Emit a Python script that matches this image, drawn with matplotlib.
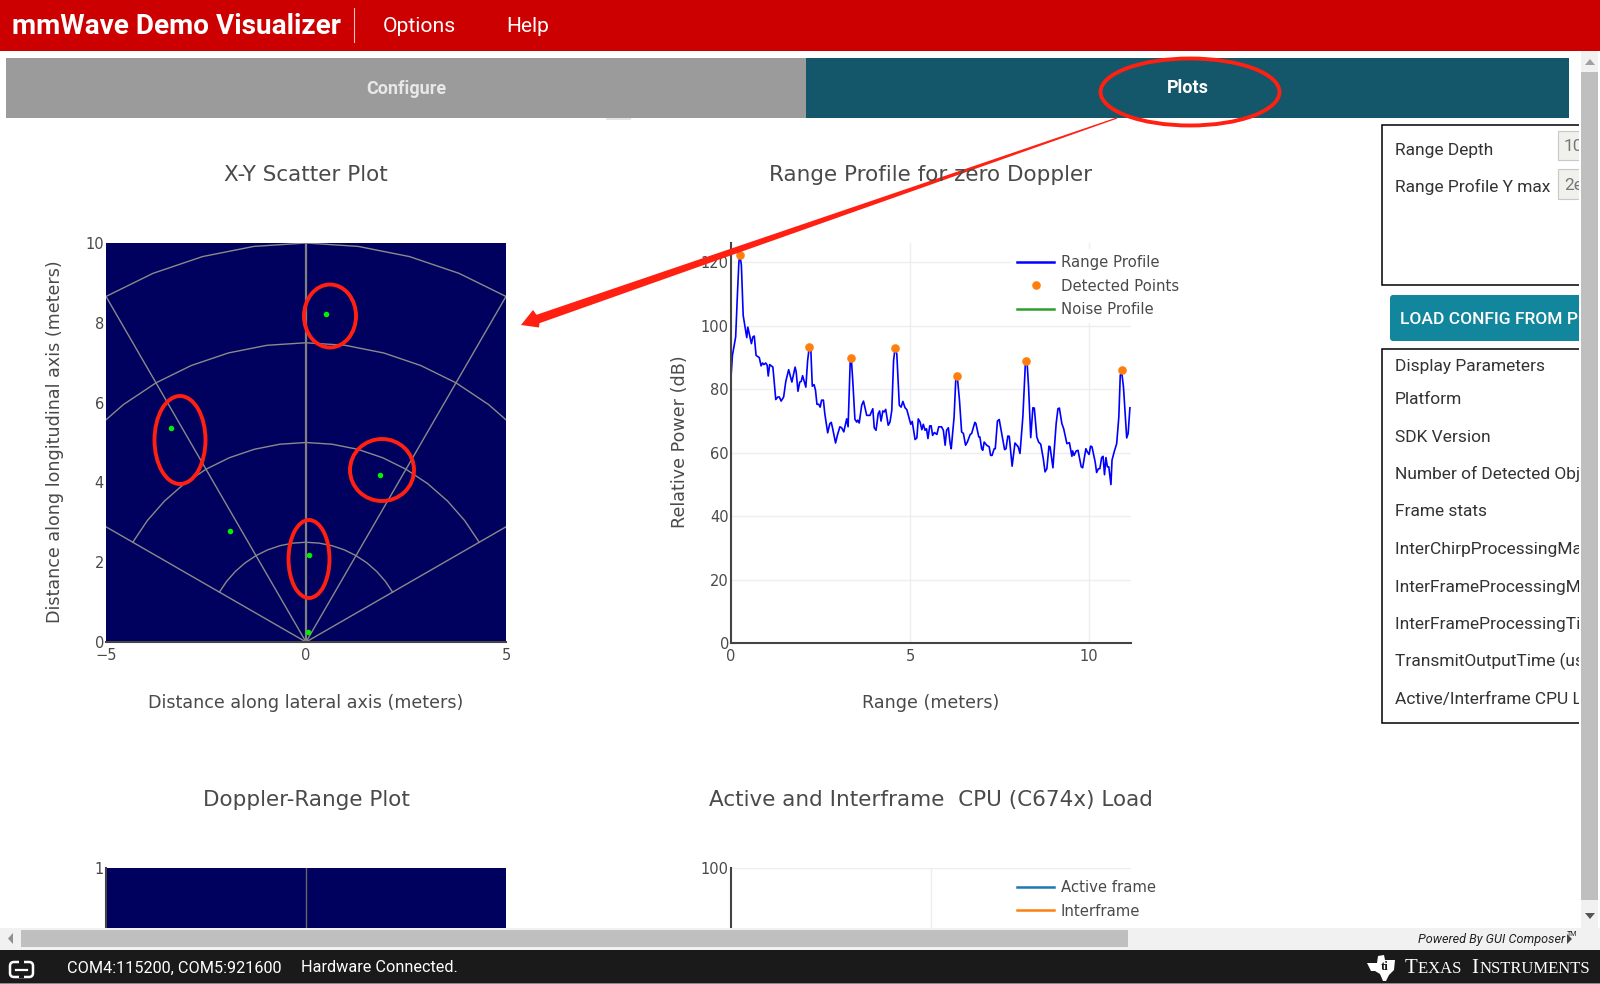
import numpy as np
import matplotlib
matplotlib.use('Agg')
import matplotlib.pyplot as plt
from matplotlib.patches import Rectangle, Ellipse, Polygon, FancyBboxPatch

W, H = 1600, 984

# X-Y scatter points
scatter_x = [0.51, -3.37, 1.86, -1.89, 0.07, 0.04]
scatter_y = [8.23, 5.36, 4.18, 2.78, 2.17, 0.26]

# range profile
range_m = [0.00, 0.04, 0.13, 0.18, 0.22, 0.25, 0.29, 0.34, 0.44, 0.47, 0.57, 0.61, 0.65, 0.70, 0.79, 0.84,
           0.88, 0.92, 0.97, 1.01, 1.04, 1.08, 1.17, 1.25, 1.31, 1.35, 1.40, 1.47, 1.53, 1.61, 1.70, 1.79,
           1.82, 1.87, 1.92, 1.96, 2.00, 2.09, 2.14, 2.18, 2.23, 2.27, 2.32, 2.36, 2.40, 2.45, 2.49, 2.53,
           2.58, 2.62, 2.70, 2.76, 2.80, 2.84, 2.92, 2.97, 3.04, 3.09, 3.15, 3.23, 3.27, 3.33, 3.36, 3.40,
           3.46, 3.51, 3.54, 3.58, 3.65, 3.70, 3.79, 3.88, 3.96, 4.00, 4.05, 4.11, 4.15, 4.19, 4.24, 4.28,
           4.32, 4.39, 4.44, 4.49, 4.54, 4.58, 4.63, 4.70, 4.75, 4.80, 4.86, 4.91, 5.02, 5.06, 5.14, 5.19,
           5.23, 5.28, 5.33, 5.37, 5.42, 5.46, 5.50, 5.55, 5.59, 5.63, 5.68, 5.75, 5.80, 5.88, 5.93, 5.98,
           6.02, 6.07, 6.12, 6.15, 6.23, 6.28, 6.32, 6.38, 6.44, 6.49, 6.55, 6.60, 6.68, 6.72, 6.81, 6.84,
           6.92, 6.95, 7.00, 7.03, 7.07, 7.14, 7.21, 7.25, 7.29, 7.35, 7.38, 7.44, 7.49, 7.56, 7.64, 7.68,
           7.73, 7.77, 7.85, 7.93, 8.02, 8.07, 8.15, 8.22, 8.27, 8.31, 8.37, 8.43, 8.47, 8.54, 8.59, 8.65,
           8.72, 8.77, 8.82, 8.88, 8.91, 8.99, 9.08, 9.13, 9.17, 9.24, 9.29, 9.38, 9.45, 9.52, 9.54, 9.58,
           9.64, 9.69, 9.78, 9.82, 9.91, 9.95, 10.00, 10.04, 10.08, 10.17, 10.21, 10.26, 10.30, 10.35, 10.39,
           10.43, 10.47, 10.51, 10.55, 10.61, 10.64, 10.70, 10.77, 10.83, 10.87, 10.91, 10.96, 11.05, 11.09,
           11.14]
power_db = [83.8, 90.6, 96.4, 110.0, 120.0, 122.1, 119.0, 103.2, 96.2, 99.5, 94.3, 96.4, 96.7, 90.6, 89.9, 87.3,
            88.2, 87.7, 88.2, 87.5, 84.1, 87.7, 86.9, 76.7, 77.5, 77.5, 76.2, 77.5, 82.4, 86.1, 82.2, 86.9,
            85.4, 79.3, 82.2, 82.4, 84.2, 80.6, 89.0, 92.7, 92.2, 80.9, 81.4, 79.6, 75.2, 75.2, 74.3, 76.5,
            76.5, 72.2, 66.2, 69.1, 69.5, 67.5, 63.0, 65.4, 68.1, 67.8, 66.5, 70.6, 68.1, 89.0, 89.6, 82.7,
            70.5, 69.6, 70.2, 69.3, 74.9, 76.2, 71.7, 71.7, 73.8, 67.8, 67.0, 72.2, 73.1, 69.9, 73.1, 72.8,
            73.6, 68.6, 69.6, 73.3, 89.0, 92.7, 91.1, 74.9, 74.3, 76.1, 74.1, 73.5, 68.9, 69.8, 64.1, 64.6,
            70.6, 69.6, 67.2, 68.9, 67.0, 67.5, 64.4, 68.4, 68.4, 65.4, 66.3, 65.7, 68.1, 68.1, 67.0, 62.3,
            67.0, 67.8, 62.8, 61.2, 71.2, 83.8, 83.8, 76.5, 66.5, 66.0, 62.3, 63.3, 65.7, 66.0, 69.5, 69.1,
            64.9, 64.9, 61.2, 60.7, 63.3, 62.3, 61.8, 59.1, 59.1, 61.2, 61.2, 69.9, 70.4, 66.0, 60.9, 61.2,
            65.2, 65.1, 55.7, 63.0, 61.8, 59.7, 71.2, 88.0, 88.0, 80.6, 64.7, 74.1, 74.0, 64.9, 63.3, 62.6,
            58.1, 53.9, 54.9, 62.0, 61.8, 55.2, 69.1, 73.8, 74.0, 69.1, 67.5, 62.8, 63.1, 58.8, 60.5, 59.1,
            60.5, 60.7, 55.5, 55.2, 61.2, 60.2, 59.4, 62.0, 61.8, 57.0, 53.7, 54.9, 54.9, 58.4, 58.8,
            53.0, 58.4, 55.5, 55.5, 49.9, 57.6, 60.2, 62.8, 71.2, 84.3, 85.4, 80.6, 64.6, 66.0,
            74.1]
detected_m = [0.25, 2.18, 3.35, 4.58, 6.32, 8.25, 10.91]
detected_db = [122.3, 93.2, 89.8, 92.8, 84.1, 88.7, 86.1]

panel_labels = ['Display Parameters', 'Platform', 'SDK Version', 'Number of Detected Objects', 'Frame stats',
                'InterChirpProcessingMargin (usec)', 'InterFrameProcessingMargin (usec)',
                'InterFrameProcessingTime (usec)', 'TransmitOutputTime (usec)', 'Active/Interframe CPU Load (%)']
panel_label_y = [367, 400, 437, 474, 512, 549, 587, 624, 661, 699]

NAVY = '#00005f'
TICK = '#4a4a4a'
GRIDC = '#eeeeee'
UI = ['Roboto', 'DejaVu Sans']


def px_axes(left, top, w, h):
    return fig.add_axes([left / W, 1 - (top + h) / H, w / W, h / H])


def style_axes(ax, left_spine=True):
    for name in ['top', 'right']:
        ax.spines[name].set_visible(False)
    ax.spines['left'].set_visible(left_spine)
    for name in ['left', 'bottom']:
        ax.spines[name].set_color('#444444')
        ax.spines[name].set_linewidth(1.5)
    ax.tick_params(length=0, labelsize=10.5, labelcolor=TICK)
    ax.tick_params(axis='x', pad=4)
    ax.tick_params(axis='y', pad=1.5)


def page_legend(ax, top):
    leg = fig.legend(*ax.get_legend_handles_labels(), loc='upper left', bbox_to_anchor=(1011 / W, 1 - top / H),
                     borderaxespad=0, borderpad=0.4, fontsize=10.7, labelcolor=TICK, handlelength=2.5,
                     handletextpad=0.45, labelspacing=0.58, framealpha=1, edgecolor='none', fancybox=False)
    for handle in leg.get_lines():
        handle.set_linewidth(1.8)
    return leg


fig = plt.figure(figsize=(W / 100, H / 100), dpi=100, facecolor='white')

# X-Y scatter
ax1 = px_axes(106, 243, 400, 399)
ax1.set_facecolor(NAVY)
style_axes(ax1, left_spine=False)
for r in [2.5, 5, 7.5, 10]:
    a = np.radians(np.arange(-60, 60.1, 7.5))
    ax1.plot(r * np.sin(a), r * np.cos(a), color='#8a8a8a', lw=1.0)
for deg in [-60, -30, 30, 60]:
    ax1.plot([0, 12 * np.sin(np.radians(deg))], [0, 12 * np.cos(np.radians(deg))], color='#8a8a8a', lw=1.0)
ax1.plot([0, 0], [0, 10], color='#808080', lw=1.6)
ax1.scatter(scatter_x, scatter_y, s=16, color='#00f000', linewidths=0, zorder=5)
ax1.set_xlim(-5, 5)
ax1.set_ylim(0, 10)
ax1.set_xticks([-5, 0, 5])
ax1.set_yticks([0, 2, 4, 6, 8, 10])

# range profile
ax2 = px_axes(731, 243, 400, 400)
style_axes(ax2)
ax2.grid(True, color=GRIDC, lw=1.0)
ax2.set_axisbelow(True)
ax2.plot(range_m, power_db, color='#0000ff', lw=1.2, label='Range Profile')
ax2.plot(detected_m, detected_db, 'o', color='#ff7f0e', ms=6.2, mew=0, label='Detected Points', zorder=5)
ax2.plot([], [], color='#2ca02c', lw=1.5, label='Noise Profile')
ax2.set_xlim(0, 11.17)
ax2.set_ylim(0, 126)
ax2.set_xticks([0, 5, 10])
ax2.set_yticks([0, 20, 40, 60, 80, 100, 120])
page_legend(ax2, 249)

# Doppler-range, only the top of it is on screen
ax3 = px_axes(106, 868, 400, 400)
ax3.set_facecolor(NAVY)
style_axes(ax3)
ax3.plot([0, 0], [-1, 1], color='#666666', lw=1.0)
ax3.set_xlim(-1, 1)
ax3.set_ylim(-1, 1)
ax3.set_xticks([])
ax3.set_yticks([1])

# CPU load, only the top of it is on screen
ax4 = px_axes(731, 868, 400, 400)
style_axes(ax4)
ax4.grid(True, color=GRIDC, lw=1.0)
ax4.set_axisbelow(True)
ax4.plot([], [], color='#1f77b4', lw=1.5, label='Active frame')
ax4.plot([], [], color='#ff7f0e', lw=1.5, label='Interframe')
ax4.set_xlim(0, 10)
ax4.set_ylim(0, 100)
ax4.set_xticks([5])
ax4.set_xticklabels([''])
ax4.set_yticks([100])
page_legend(ax4, 874)

# page chrome goes on one pixel-based axes above the plots
ui = fig.add_axes([0, 0, 1, 1], zorder=10)
ui.set_xlim(0, W)
ui.set_ylim(H, 0)
ui.axis('off')
ui.patch.set_alpha(0)


def rect(x0, y0, x1, y1, color, **kw):
    ui.add_patch(Rectangle((x0, y0), x1 - x0, y1 - y0, facecolor=color, edgecolor=kw.pop('edge', 'none'), **kw))


def label(x, y, s, size=12.5, color='#333333', ha='left', family=UI, **kw):
    return ui.text(x, y, s, fontsize=size, color=color, ha=ha, va='center', family=family, **kw)


# plot titles and axis titles
dejavu = ['DejaVu Sans']
for x, y, s in [(306, 175, 'X-Y Scatter Plot'), (931, 175, 'Range Profile for zero Doppler'),
                (306, 800, 'Doppler-Range Plot'), (931, 800, 'Active and Interframe  CPU (C674x) Load')]:
    label(x, y, s, size=15.5, color=TICK, ha='center', family=dejavu)
label(306, 703, 'Distance along lateral axis (meters)', size=12.6, color=TICK, ha='center', family=dejavu)
label(931, 703, 'Range (meters)', size=12.6, color=TICK, ha='center', family=dejavu)
label(55, 442, 'Distance along longitudinal axis (meters)', size=12.6, color=TICK, ha='center', family=dejavu,
      rotation=90)
label(680, 442, 'Relative Power (dB)', size=12.6, color=TICK, ha='center', family=dejavu, rotation=90)

# header and tabs
rect(0, 0, W, 51, '#cc0000')
label(12, 27, 'mmWave Demo Visualizer', size=20.1, color='white', fontweight='bold')
ui.plot([354, 354], [8, 42], color='#f0c0c0', lw=0.8)
label(383, 27, 'Options', size=15.2, color='white')
label(506, 27, 'Help', size=15, color='white')
rect(6, 58, 806, 118, '#9b9b9b')
rect(806, 58, 1569, 118, '#14566a')
rect(606, 118, 631, 120, '#e4e4e4')
label(406, 89, 'Configure', size=13, color='#e8e8e8', ha='center', fontweight='bold')
label(1188, 88, 'Plots', size=13, color='white', ha='center', fontweight='bold')

# settings panels on the right
ui.add_patch(Rectangle((1382, 125), 300, 160, facecolor='white', edgecolor='black', lw=1.1))
label(1395, 150, 'Range Depth')
label(1395, 187, 'Range Profile Y max')
for y0, y1, s in [(131, 160, '10'), (169, 199, '2e')]:
    rect(1558, y0, 1600, y1, '#f0f0ec', edge='#c8c8c4', lw=0.8)
    label(1564, (y0 + y1) / 2 + 1, s, color='#777777')
ui.add_patch(FancyBboxPatch((1393, 298), 300, 40, boxstyle='round,pad=3', facecolor='#12869c', edgecolor='none'))
label(1400, 319, 'LOAD CONFIG FROM PC', color='white', fontweight='medium')
ui.add_patch(Rectangle((1382, 349), 300, 374, facecolor='white', edgecolor='black', lw=1.1))
for y, s in zip(panel_label_y, panel_labels):
    label(1395, y, s)

# vertical scrollbar sits above the panel texts and cuts them off
rect(1579, 51, W, 928, 'white', zorder=5)
rect(1581, 51, 1598, 928, '#f1f1f1', zorder=5)
rect(1581, 72, 1598, 900, '#bfbfbf', zorder=5)
ui.add_patch(Polygon([(1585, 65), (1595, 65), (1590, 59)], facecolor='#a0a0a0', zorder=6))
ui.add_patch(Polygon([(1585, 913), (1595, 913), (1590, 919)], facecolor='#555555', zorder=6))

# horizontal scrollbar and status bar
rect(0, 928, W, 950, '#f1f1f1')
rect(21, 930, 1128, 947, '#bfbfbf')
ui.add_patch(Polygon([(13, 933), (13, 944), (8, 938.5)], facecolor='#909090'))
label(1418, 939, 'Powered By GUI Composer', size=9.1, color='#222222', style='italic')
label(1567, 934, 'TM', size=5, color='#222222')
ui.add_patch(Polygon([(1567, 934), (1567, 944), (1572, 939)], facecolor='#444444'))
rect(0, 950, W, 983, '#1a1a1a')
rect(0, 983, W, H, '#8a8a8a')
label(67, 968, 'COM4:115200, COM5:921600', size=11.7, color='white')
label(301, 968, 'Hardware Connected.', size=11.7, color='white')

# link icon
ui.add_patch(FancyBboxPatch((14, 966), 15, 7, boxstyle='round,pad=4', facecolor='none', edgecolor='white', lw=1.8))
rect(19, 960, 24, 978, '#1a1a1a')
ui.plot([16, 27], [969.5, 969.5], color='white', lw=1.6)

# TI logo and small caps wordmark
ui.add_patch(Polygon([(1367, 963), (1377, 963), (1378, 956), (1384, 955), (1385, 960), (1395, 960), (1394, 970),
                      (1389, 975), (1386, 981), (1383, 981), (1380, 974), (1375, 971), (1371, 971)],
                     facecolor='white'))
label(1381, 967, 'ti', size=9, color='#1a1a1a', family=['Liberation Serif'], fontweight='bold')
renderer = fig.canvas.get_renderer()
x = 1405
for s, size in [('T', 15), ('EXAS ', 12), ('I', 15), ('NSTRUMENTS', 12)]:
    t = ui.text(x, 973, s, fontsize=size, color='white', family=['Liberation Serif'], ha='left', va='baseline')
    x += t.get_window_extent(renderer).width + (6 if s.endswith(' ') else 0.5)

# red annotations on the screenshot
red = '#ff2012'
for cx, cy, w, h in [(1190, 92, 179, 67), (330, 316, 52, 63), (180, 440, 51, 88),
                     (382, 470, 64, 62), (309, 559, 41, 78)]:
    ui.add_patch(Ellipse((cx, cy), w, h, facecolor='none', edgecolor=red, lw=2.8))
ui.add_patch(Polygon([(1116.8, 117.4), (1117.2, 118.6), (539.5, 323.2), (539, 327.5), (521, 325), (533, 310),
                      (536.5, 314.8)], facecolor=red, edgecolor='none'))

fig.savefig('out.png', dpi=100)
